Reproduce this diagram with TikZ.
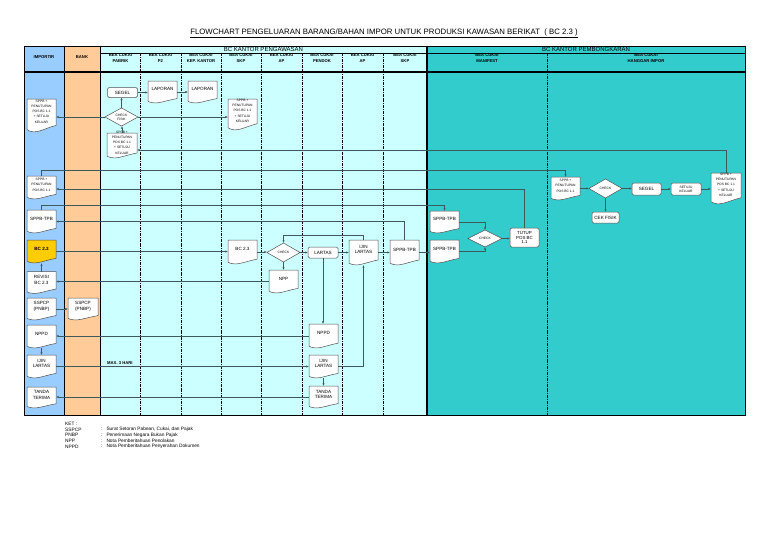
\documentclass[tikz,border=0pt]{standalone}
\usepackage{fontspec}
\setmainfont{Liberation Sans}
\usetikzlibrary{shapes.geometric,arrows.meta,calc}
\definecolor{impc}{HTML}{99CCFF}
\definecolor{bankc}{HTML}{FFCC99}
\definecolor{pengc}{HTML}{CCFFFF}
\definecolor{pembc}{HTML}{33CCCC}
\definecolor{linec}{HTML}{3F5A5A}
\definecolor{docline}{HTML}{505050}
\definecolor{bcyel}{HTML}{FFCC00}
\newcommand{\fA}{\fontsize{4.6}{5.2}\selectfont}
\newcommand{\fB}{\fontsize{3.3}{4.2}\selectfont}
\newcommand{\fH}{\fontsize{4.2}{5.4}\selectfont\bfseries}
\tikzset{
  conn/.style={draw=linec, line width=0.65pt, -{Latex[length=2.6pt,width=2.2pt]}},
  boxline/.style={draw=docline, line width=0.5pt},
  anchorbox/.style={draw=none, inner sep=0pt, outer sep=0pt},
  doctext/.style={inner sep=0pt, align=center, font=\fA},
  rbox/.style={draw=docline, line width=0.5pt, fill=white, rounded corners=1.5pt, inner sep=0pt, outer sep=0pt, align=center, font=\fA},
  dia/.style={diamond, draw=docline, line width=0.5pt, fill=white, inner sep=0pt, outer sep=0pt, align=center, font=\fB},
  hdr/.style={inner sep=0pt, align=center, font=\fH},
  hdrtop/.style={inner sep=0pt, font=\fontsize{6}{7}\selectfont},
  sep/.style={black, line width=0.6pt, dash pattern=on 3pt off 1pt on 0.8pt off 1pt},
  legend/.style={inner sep=0pt, anchor=west, font=\fontsize{4.8}{5}\selectfont},
}
% name, cx, cy, w, h, fill, text
\newcommand{\docu}[7]{%
  \path[boxline, fill=#6] ({#2-#4/2},{#3-#5/2}) -- ({#2+#4/2},{#3-#5/2}) -- ({#2+#4/2},{#3+0.3*#5})
     .. controls ({#2+0.05*#4},{#3+0.4*#5}) and ({#2-0.2*#4},{#3+0.6*#5}) .. ({#2-#4/2},{#3+0.43*#5}) -- cycle;
  \node[anchorbox, minimum width=#4pt, minimum height=#5pt] (#1) at (#2,#3) {};
  \node[doctext] (#1-t) at (#2,{#3-0.12*#5}) {#7};
}
\begin{document}
\begin{tikzpicture}[x=1pt,y=-1pt]
\useasboundingbox (0,0) rectangle (768,543);
\fill[white] (0,0) rectangle (768,543);
% title
\node[inner sep=0pt, font=\fontsize{7.8}{9}\selectfont] (title) at (384,33) {\underline{FLOWCHART PENGELUARAN BARANG/BAHAN IMPOR UNTUK PRODUKSI KAWASAN BERIKAT\ \ ( BC 2.3 )}};
% lanes
\fill[impc] (24,46) rectangle (64,415);
\fill[bankc] (64,46) rectangle (100,415);
\fill[pengc] (100,46) rectangle (427,415);
\fill[pembc] (427,46) rectangle (745,415);
\foreach \x in {140,181,221,261,302,342,383,547} \draw[sep] (\x,53) -- (\x,415);
\draw[black, line width=0.6pt] (100,53) -- (745,53);
\draw[black, line width=1pt] (24,72) -- (745,72);
\draw[black, line width=0.8pt] (64,46) -- (64,415);
\draw[black, line width=0.8pt] (100,46) -- (100,415);
\draw[black, line width=1.1pt] (427,46) -- (427,415);
\draw[black, line width=0.9pt] (24,46) rectangle (745,415);
% headers
\node[hdr] (hImp) at (44,57) {IMPORTIR};
\node[hdr] (hBank) at (82,57) {BANK};
\node[hdrtop] (hPeng) at (263.5,49.5) {BC KANTOR PENGAWASAN};
\node[hdrtop] (hPemb) at (586,49.5) {BC KANTOR PEMBONGKARAN};
\node[hdr] (h1) at (120.5,58) {BEA CUKAI\\PABRIK};
\node[hdr] (h2) at (160.5,58) {BEA CUKAI\\P2};
\node[hdr] (h3) at (201,58) {BEA CUKAI\\KEP. KANTOR};
\node[hdr] (h4) at (241,58) {BEA CUKAI\\SKP};
\node[hdr] (h5) at (281.5,58) {BEA CUKAI\\AP};
\node[hdr] (h6) at (322,58) {BEA CUKAI\\PENDOK};
\node[hdr] (h7) at (362.5,58) {BEA CUKAI\\AP};
\node[hdr] (h8) at (405,58) {BEA CUKAI\\SKP};
\node[hdr] (h9) at (487,58) {BEA CUKAI\\MANIFEST};
\node[hdr] (h10) at (646,58) {BEA CUKAI\\HANGGAR IMPOR};
% importir docs
\docu{imp1}{41.5}{115.5}{29}{33}{white}{\fB SPPB +\\\fB PENUTUPAN\\\fB POS BC 1.1\\\fB + SETUJU\\\fB KELUAR}
\docu{imp2}{41.5}{187.5}{29}{23}{white}{\fB SPPB +\\\fB PENUTUPAN\\\fB POS BC 1.1}
\docu{imp3}{41.5}{221.5}{29}{23}{white}{SPPB-TPB}
\docu{imp4}{41.5}{251.5}{29}{23}{bcyel}{\bfseries BC 2.3}
\docu{imp5}{41.5}{282.5}{29}{22}{white}{REVISI\\BC 2.3}
\docu{imp6}{41.5}{309}{29}{22}{white}{SSPCP\\(PNBP)}
\docu{imp7}{41.5}{336.5}{29}{23}{white}{NPPD}
\docu{imp8}{41.5}{366.5}{29}{23}{white}{IJIN\\LARTAS}
\docu{imp9}{41.5}{397.5}{29}{21}{white}{TANDA\\TERIMA}
% bank
\docu{bank1}{83}{309}{30}{22}{white}{SSPCP\\(PNBP)}
% pabrik
\node[rbox, minimum width=30pt, minimum height=10pt] (segel1) at (122.5,92.5) {SEGEL};
\node[dia, minimum width=33pt, minimum height=18pt] (chk1) at (121.5,117) {CHECK\\FISIK};
\docu{pab}{122}{145.5}{30}{25}{white}{\fB SPPB +\\\fB PENUTUPAN\\\fB POS BC 1.1\\\fB + SETUJU\\\fB KELUAR}
% P2, kep kantor
\docu{lap1}{162.5}{92}{29}{22}{white}{LAPORAN}
\docu{lap2}{202.5}{92}{29}{22}{white}{LAPORAN}
% SKP
\docu{skp1}{242.5}{114.5}{29}{31}{white}{\fB SPPB +\\\fB PENUTUPAN\\\fB POS BC 1.1\\\fB + SETUJU\\\fB KELUAR}
\docu{skp2}{242.5}{252}{29}{24}{white}{BC 2.3}
% AP
\node[dia, minimum width=33pt, minimum height=19pt] (chk2) at (283.5,252.5) {CHECK};
\docu{npp}{283.5}{281.5}{29}{23}{white}{NPP}
% pendok
\node[rbox, minimum width=30pt, minimum height=11pt] (lartas) at (323,252.5) {LARTAS};
\docu{nppd2}{323.5}{336}{29}{24}{white}{NPPD}
\docu{ijin2}{323.5}{366.5}{29}{23}{white}{IJIN\\LARTAS}
\docu{tanda2}{323.5}{397}{29}{22}{white}{TANDA\\TERIMA}
% AP 2, SKP 2
\docu{ijin1}{363.5}{252.5}{29}{25}{white}{IJIN\\LARTAS}
\docu{sppb1}{404.5}{252.5}{29}{25}{white}{SPPB-TPB}
% manifest
\docu{sppbA}{444.5}{222}{29}{22}{white}{SPPB-TPB}
\docu{sppbB}{444.5}{251.5}{29}{23}{white}{SPPB-TPB}
\node[dia, minimum width=34pt, minimum height=17pt] (chk3) at (485,238.5) {CHECK};
\node[rbox, minimum width=29pt, minimum height=19pt, font=\fontsize{4.4}{4.8}\selectfont] (tutup) at (524.5,237.5) {TUTUP\\POS BC\\1.1};
% hanggar
\docu{hdoc1}{565.5}{188.5}{29}{23}{white}{\fB SPPB +\\\fB PENUTUPAN\\\fB POS BC 1.1}
\node[dia, minimum width=33pt, minimum height=19pt] (chk4) at (605.5,188.5) {CHECK};
\node[rbox, minimum width=29pt, minimum height=12pt] (segel2) at (646.5,189) {SEGEL};
\node[rbox, minimum width=30pt, minimum height=12pt, font=\fB] (setuju) at (686,189) {SETUJU\\KELUAR};
\docu{hdoc2}{726}{188.5}{30}{31}{white}{\fB SPPB +\\\fB PENUTUPAN\\\fB POS BC 1.1\\\fB + SETUJU\\\fB KELUAR}
\node[rbox, minimum width=27pt, minimum height=11pt] (cekfisik) at (605.5,217.5) {CEK FISIK};
% connectors
\draw[conn] (segel1.east) -- (segel1.east -| lap1.west);
\draw[conn] (lap1.east) -- (lap2.west);
\draw[conn] (chk1.north) -- (segel1.south -| chk1.north);
\draw[conn] (pab.north) -- (pab.north |- chk1.south);
\draw[conn] (chk1.west) -- (chk1.west -| imp1.east);
\draw[conn] (chk1.east) -- (chk1.east -| skp1.west);
\draw[conn] (hdoc2.north) |- ([yshift=-4.5pt]pab.east);
\draw[conn] (imp2.north) -- ++(0,-6) -| (hdoc1.north);
\draw[conn] (tutup.north) |- ([yshift=-1.5pt]imp2.east);
\draw[conn] (imp3.north) -- ++(0,-5) -| (sppbA.north);
\draw[conn] (sppb1.north) |- (imp3.east);
\draw[conn] (imp4.east) -- (imp4.east -| skp2.west);
\draw[conn] (skp2.east) -- (skp2.east -| chk2.west);
\draw[conn] (chk2.east) -- (lartas.west);
\draw[conn] (lartas.east) -- (lartas.east -| ijin1.west);
\draw[conn] (ijin1.east) -- (sppb1.west);
\draw[conn] (sppb1.east) -- (sppb1.east -| sppbB.west);
\draw[conn] (sppbA.east) -| (chk3.north);
\draw[conn] (sppbB.east) -| (chk3.south);
\draw[conn] (chk3.east) -- (chk3.east -| tutup.west);
\draw[conn] (ijin1.north) -- ++(0,-5) -| (chk2.north);
\draw[conn] (chk2.south) -- (npp.north);
\draw[conn] (npp.west) -- (npp.west -| imp5.east);
\draw[conn] (imp5.north) -- (imp4.south);
\draw[conn] (imp6.east) -- (bank1.west);
\draw[conn] (lartas.south) -- (lartas.south |- nppd2.north);
\draw[conn] (nppd2.west) -- (nppd2.west -| imp7.east);
\draw[conn] (imp7.south) -- (imp8.north);
\draw[conn] (imp8.east) -- (imp8.east -| ijin2.west);
\node[inner sep=0pt, anchor=west, font=\fontsize{4.2}{5}\selectfont\bfseries] (maxlbl) at (107,363) {MAX. 3 HARI};
\draw[conn] (ijin2.east) -| (ijin1.south);
\draw[conn] (ijin2.south) -- (tanda2.north);
\draw[conn] (tanda2.west) -- (tanda2.west -| imp9.east);
\draw[conn] (hdoc1.east) -- (hdoc1.east -| chk4.west);
\draw[conn] (chk4.east) -- (chk4.east -| segel2.west);
\draw[conn] (segel2.east) -- (setuju.west);
\draw[conn] (setuju.east) -- (setuju.east -| hdoc2.west);
\draw[conn] (chk4.south) -- (cekfisik.north);
% legend
\node[legend] (k0) at (65,424) {KET :};
\node[legend] (k1) at (65,429.5) {SSPCP};
\node[legend] (k2) at (65,435.2) {PNBP};
\node[legend] (k3) at (65,440.9) {NPP};
\node[legend] (k4) at (65,446.6) {NPPD};
\node[legend] (d1) at (101,429.5) {:\ \ \ Surat Setoran Pabean, Cukai, dan Pajak};
\node[legend] (d2) at (101,435.2) {:\ \ \ Penerimaan Negara Bukan Pajak};
\node[legend] (d3) at (101,440.9) {:\ \ \ Nota Pemberitahuan Penolakan};
\node[legend] (d4) at (101,446.6) {:\ \ \ Nota Pemberitahuan Penyerahan Dokumen};
\end{tikzpicture}
\end{document}
